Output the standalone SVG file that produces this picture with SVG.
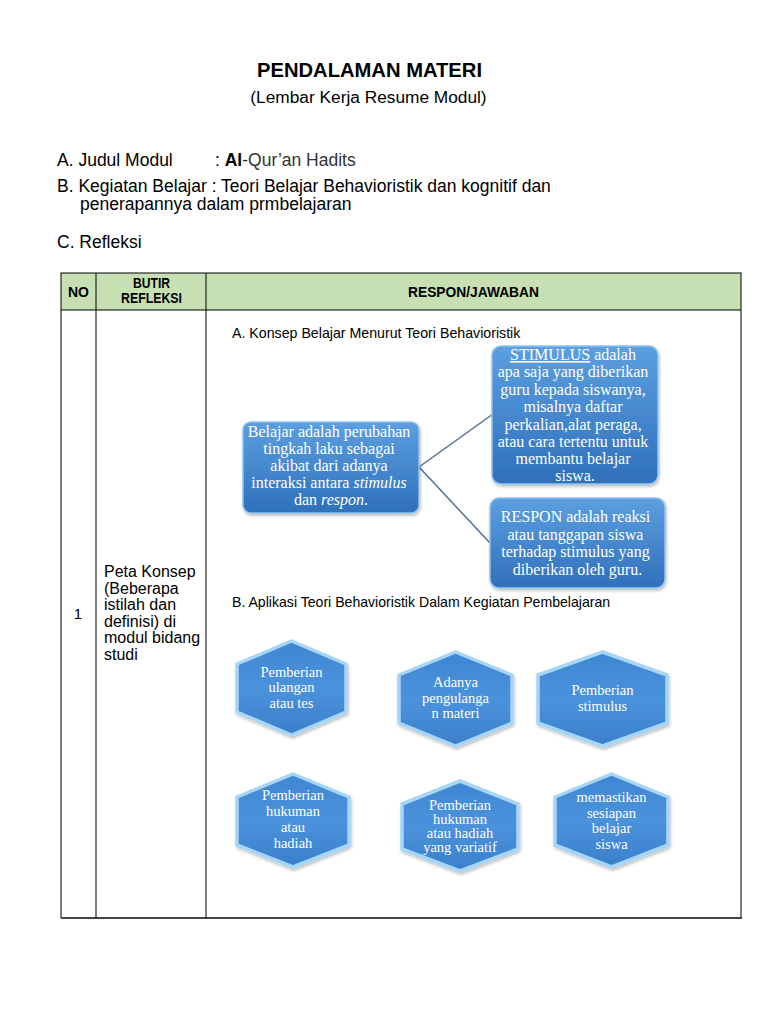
<svg xmlns="http://www.w3.org/2000/svg" width="768" height="1024" viewBox="0 0 768 1024">
<defs>
<linearGradient id="boxg" x1="0" y1="0" x2="0" y2="1">
<stop offset="0" stop-color="#5c9fe0"/>
<stop offset="1" stop-color="#2f70bb"/>
</linearGradient>
<linearGradient id="hexg" x1="0" y1="0" x2="0" y2="1">
<stop offset="0" stop-color="#3f86d2"/>
<stop offset="0.5" stop-color="#4b92dc"/>
<stop offset="1" stop-color="#3b7fca"/>
</linearGradient>
<filter id="sh" x="-10%" y="-10%" width="120%" height="120%">
<feDropShadow dx="1" dy="2" stdDeviation="1.5" flood-color="#000" flood-opacity="0.25"/>
</filter>
</defs>
<style>
.t{font-family:"Liberation Sans",Arial,sans-serif;fill:#000}
.hd{font-family:"Liberation Sans",Arial,sans-serif;font-weight:bold;font-size:14px;fill:#000}
.bx{fill:url(#boxg);stroke:#8ec4ee;stroke-width:1.5;filter:url(#sh)}
.hx{fill:url(#hexg);stroke:#a6d6f5;stroke-width:3.5;stroke-linejoin:round;filter:url(#sh)}
.w{font-family:"Liberation Serif","Times New Roman",serif;fill:#fff;font-size:16px;text-anchor:middle}
.hw{font-family:"Liberation Serif","Times New Roman",serif;fill:#fff;font-size:14.5px;text-anchor:middle}
.ln{stroke:#000;stroke-width:1;fill:none}
.cn{stroke:#4f6f93;stroke-width:1.5;fill:none}
</style>
<rect width="768" height="1024" fill="#fff"/>

<g id="heading">
<text class="t" x="369.5" y="77" font-size="20.2" font-weight="bold" text-anchor="middle">PENDALAMAN MATERI</text>
<text class="t" x="368.5" y="103" font-size="17.3" text-anchor="middle">(Lembar Kerja Resume Modul)</text>
<text class="t" x="57" y="166" font-size="17.5">A. Judul Modul</text>
<text class="t" x="215" y="166" font-size="17.5">: <tspan font-weight="bold">Al</tspan><tspan fill="#333">-Qur’an Hadits</tspan></text>
<text class="t" x="57" y="192" font-size="17.5">B. Kegiatan Belajar : Teori Belajar Behavioristik dan kognitif dan</text>
<text class="t" x="80" y="210" font-size="17.5">penerapannya dalam prmbelajaran</text>
<text class="t" x="57" y="248" font-size="17.5">C. Refleksi</text>
</g>

<g id="table">
<rect x="61" y="273" width="680" height="37" fill="#c6e0b4"/>
<rect x="62" y="917" width="680" height="2" fill="#888"/>
<rect x="61" y="273" width="680" height="645" class="ln"/>
<line x1="61" y1="310" x2="741" y2="310" class="ln"/>
<line x1="96" y1="273" x2="96" y2="918" class="ln"/>
<line x1="206" y1="273" x2="206" y2="918" class="ln"/>
<text class="hd" x="68" y="297" textLength="21" lengthAdjust="spacingAndGlyphs">NO</text>
<text class="hd" x="133" y="288" textLength="37" lengthAdjust="spacingAndGlyphs">BUTIR</text>
<text class="hd" x="121" y="303" textLength="61" lengthAdjust="spacingAndGlyphs">REFLEKSI</text>
<text class="hd" x="408" y="297" textLength="131" lengthAdjust="spacingAndGlyphs">RESPON/JAWABAN</text>
<text class="t" x="78" y="619" font-size="15" text-anchor="middle">1</text>
<text class="t" font-size="16">
<tspan x="104" y="577">Peta Konsep</tspan>
<tspan x="104" y="593.5">(Beberapa</tspan>
<tspan x="104" y="610">istilah dan</tspan>
<tspan x="104" y="626.5">definisi) di</tspan>
<tspan x="104" y="643">modul bidang</tspan>
<tspan x="104" y="659.5">studi</tspan>
</text>
<text class="t" x="232" y="338" font-size="14.2">A.  Konsep Belajar Menurut Teori Behavioristik</text>
<text class="t" x="232" y="607" font-size="14.1">B.  Aplikasi Teori Behavioristik Dalam Kegiatan Pembelajaran</text>
</g>

<g id="connectors">
<line x1="419" y1="467" x2="493" y2="414" class="cn"/>
<line x1="419" y1="467" x2="490" y2="543" class="cn"/>
</g>

<g id="node-belajar">
<rect x="243" y="422" width="176" height="91" rx="8" class="bx"/>
<text class="w">
<tspan x="331" y="437">Belajar adalah perubahan</tspan>
<tspan x="331" y="454">tingkah laku sebagai</tspan>
<tspan x="331" y="471">akibat dari adanya</tspan>
<tspan x="331" y="488">interaksi antara <tspan font-style="italic">stimulus</tspan></tspan>
<tspan x="331" y="505">dan <tspan font-style="italic">respon</tspan>.</tspan>
</text>
</g>

<g id="node-stimulus">
<rect x="492" y="346" width="166" height="138" rx="9" class="bx"/>
<text class="w">
<tspan x="575" y="360"><tspan text-decoration="underline">STIMULUS</tspan>  adalah</tspan>
<tspan x="575" y="377">apa saja yang diberikan</tspan>
<tspan x="575" y="395">guru kepada siswanya,</tspan>
<tspan x="575" y="412">misalnya daftar</tspan>
<tspan x="575" y="430">perkalian,alat peraga,</tspan>
<tspan x="575" y="447">atau cara tertentu untuk</tspan>
<tspan x="575" y="464">membantu belajar</tspan>
<tspan x="575" y="481">siswa.</tspan>
</text>
</g>

<g id="node-respon">
<rect x="490" y="498" width="175" height="90" rx="9" class="bx"/>
<text class="w">
<tspan x="577.5" y="522">RESPON adalah reaksi</tspan>
<tspan x="577.5" y="540">atau tanggapan siswa</tspan>
<tspan x="577.5" y="557">terhadap stimulus yang</tspan>
<tspan x="577.5" y="575">diberikan oleh guru.</tspan>
</text>
</g>

<g id="hex-ulangan">
<polygon class="hx" points="291.5,641 346,664 346,712 291.5,735 237,712 237,664"/>
<text class="hw"><tspan x="291.5" y="677">Pemberian</tspan><tspan x="291.5" y="692">ulangan</tspan><tspan x="291.5" y="708">atau tes</tspan></text>
</g>
<g id="hex-pengulangan">
<polygon class="hx" points="455.5,652 512,675 512,723 455.5,746 399,723 399,675"/>
<text class="hw"><tspan x="455.5" y="687">Adanya</tspan><tspan x="455.5" y="703">pengulanga</tspan><tspan x="455.5" y="718">n materi</tspan></text>
</g>
<g id="hex-stimulus">
<polygon class="hx" points="602.5,652 667,675 667,723 602.5,746 538,723 538,675"/>
<text class="hw"><tspan x="602.5" y="695">Pemberian</tspan><tspan x="602.5" y="711">stimulus</tspan></text>
</g>
<g id="hex-hukuman">
<polygon class="hx" points="293,774 349,797 349,845 293,867 237,845 237,797"/>
<text class="hw"><tspan x="293" y="800">Pemberian</tspan><tspan x="293" y="816">hukuman</tspan><tspan x="293" y="832">atau</tspan><tspan x="293" y="848">hadiah</tspan></text>
</g>
<g id="hex-variatif">
<polygon class="hx" points="460,781 518,804 518,849 460,871 402,849 402,804"/>
<text class="hw" font-size="13.5"><tspan x="460" y="810">Pemberian</tspan><tspan x="460" y="824">hukuman</tspan><tspan x="460" y="838">atau hadiah</tspan><tspan x="460" y="852">yang variatif</tspan></text>
</g>
<g id="hex-kesiapan">
<polygon class="hx" points="611.5,774 668,797 668,845 611.5,867 555,845 555,797"/>
<text class="hw"><tspan x="611.5" y="802">memastikan</tspan><tspan x="611.5" y="818">sesiapan</tspan><tspan x="611.5" y="833">belajar</tspan><tspan x="611.5" y="849">siswa</tspan></text>
</g>
</svg>
